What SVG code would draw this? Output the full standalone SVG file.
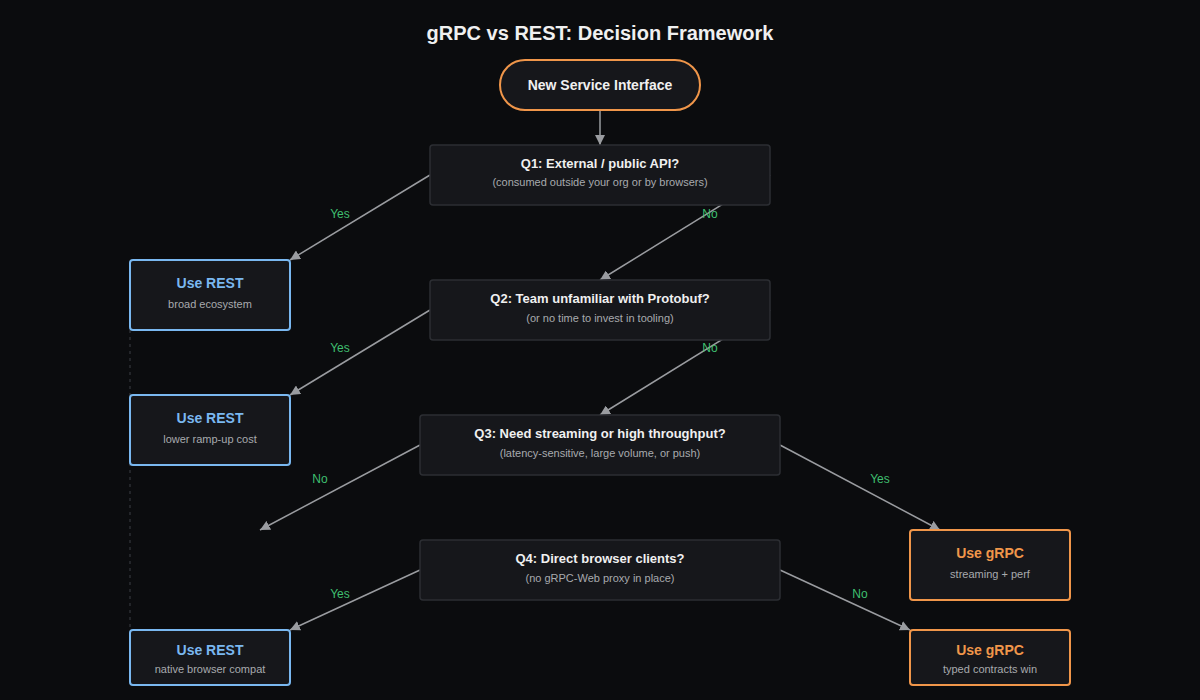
<svg xmlns="http://www.w3.org/2000/svg" width="1200" height="700" viewBox="0 0 1200 700">
<defs>
<marker id="ah" viewBox="0 0 10 10" refX="10" refY="5" markerWidth="10" markerHeight="10" markerUnits="userSpaceOnUse" orient="auto"><path d="M0,0 L10,5 L0,10 z" fill="#9a9ca0"/></marker>
<style>
.t{font-family:"Liberation Sans",Arial,sans-serif}
.q{fill:#16171b;stroke:#2c2e33;stroke-width:1.5}
.rest{fill:#16171b;stroke:#7ab8f0;stroke-width:2}
.grpc{fill:#16171b;stroke:#f0964a;stroke-width:2}
.qt{font-size:13px;font-weight:bold;fill:#f0f0f0;text-anchor:middle}
.qs{font-size:11px;fill:#a8aaae;text-anchor:middle}
.rt{font-size:14px;font-weight:bold;fill:#7ab8f0;text-anchor:middle}
.gt{font-size:14px;font-weight:bold;fill:#f0964a;text-anchor:middle}
.c{stroke:#9a9ca0;stroke-width:1.5;fill:none;marker-end:url(#ah)}
.lb{font-size:12px;fill:#3fbf6f;text-anchor:middle}
</style>
</defs>
<rect width="1200" height="700" fill="#0b0c0e"/>
<text class="t" x="600" y="40" font-size="20" font-weight="bold" fill="#f0f0f0" text-anchor="middle">gRPC vs REST: Decision Framework</text>
<g id="connectors">
<line x1="130" y1="295" x2="130" y2="630" stroke="#2c2e33" stroke-width="1.5" stroke-dasharray="3,4"/>
<line class="c" x1="600" y1="110" x2="600" y2="145"/>
<line class="c" x1="430" y1="175" x2="290" y2="260"/>
<line class="c" x1="770" y1="175" x2="600" y2="280"/>
<line class="c" x1="430" y1="310" x2="290" y2="395"/>
<line class="c" x1="770" y1="310" x2="600" y2="415"/>
<line class="c" x1="420" y1="445" x2="260" y2="530"/>
<line class="c" x1="780" y1="445" x2="940" y2="530"/>
<line class="c" x1="420" y1="570" x2="290" y2="630"/>
<line class="c" x1="780" y1="570" x2="910" y2="630"/>
<text class="t lb" x="340" y="218">Yes</text>
<text class="t lb" x="710" y="218">No</text>
<text class="t lb" x="340" y="352">Yes</text>
<text class="t lb" x="710" y="352">No</text>
<text class="t lb" x="320" y="483">No</text>
<text class="t lb" x="880" y="483">Yes</text>
<text class="t lb" x="340" y="598">Yes</text>
<text class="t lb" x="860" y="598">No</text>
</g>
<g id="start"><rect x="500" y="60" width="200" height="50" rx="25" fill="#16171b" stroke="#f0964a" stroke-width="2"/><text class="t" x="600" y="90" font-size="14" font-weight="bold" fill="#f0f0f0" text-anchor="middle">New Service Interface</text></g>
<g id="q1"><rect class="q" x="430" y="145" width="340" height="60" rx="3"/><text class="t qt" x="600" y="168">Q1: External / public API?</text><text class="t qs" x="600" y="186">(consumed outside your org or by browsers)</text></g>
<g id="q2"><rect class="q" x="430" y="280" width="340" height="60" rx="3"/><text class="t qt" x="600" y="303">Q2: Team unfamiliar with Protobuf?</text><text class="t qs" x="600" y="322">(or no time to invest in tooling)</text></g>
<g id="q3"><rect class="q" x="420" y="415" width="360" height="60" rx="3"/><text class="t qt" x="600" y="438">Q3: Need streaming or high throughput?</text><text class="t qs" x="600" y="457">(latency-sensitive, large volume, or push)</text></g>
<g id="q4"><rect class="q" x="420" y="540" width="360" height="60" rx="3"/><text class="t qt" x="600" y="563">Q4: Direct browser clients?</text><text class="t qs" x="600" y="582">(no gRPC-Web proxy in place)</text></g>
<g id="rest1"><rect class="rest" x="130" y="260" width="160" height="70" rx="3"/><text class="t rt" x="210" y="288">Use REST</text><text class="t qs" x="210" y="308">broad ecosystem</text></g>
<g id="rest2"><rect class="rest" x="130" y="395" width="160" height="70" rx="3"/><text class="t rt" x="210" y="423">Use REST</text><text class="t qs" x="210" y="443">lower ramp-up cost</text></g>
<g id="rest3"><rect class="rest" x="130" y="630" width="160" height="55" rx="3"/><text class="t rt" x="210" y="655">Use REST</text><text class="t qs" x="210" y="673">native browser compat</text></g>
<g id="grpc1"><rect class="grpc" x="910" y="530" width="160" height="70" rx="3"/><text class="t gt" x="990" y="558">Use gRPC</text><text class="t qs" x="990" y="578">streaming + perf</text></g>
<g id="grpc2"><rect class="grpc" x="910" y="630" width="160" height="55" rx="3"/><text class="t gt" x="990" y="655">Use gRPC</text><text class="t qs" x="990" y="673">typed contracts win</text></g>
</svg>
